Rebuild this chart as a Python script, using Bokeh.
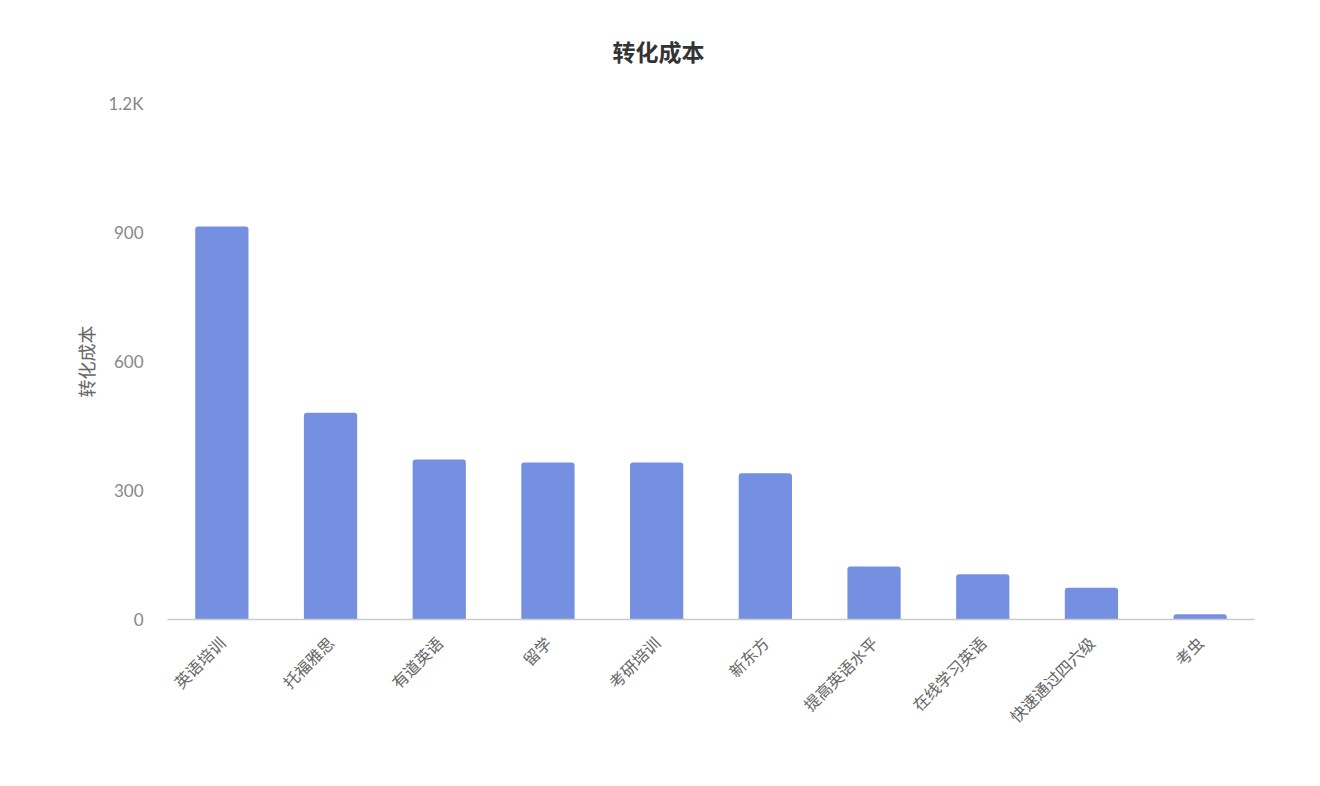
from math import pi
from bokeh.plotting import figure
from bokeh.models import FixedTicker, ColumnDataSource
from bokeh.embed import file_html
from bokeh.resources import INLINE

categories = ["英语培训", "托福雅思", "有道英语", "留学", "考研培训", "新东方",
              "提高英语水平", "在线学习英语", "快速通过四六级", "考虫"]
values = [914, 481, 372, 365, 365, 340, 123, 105, 74, 12]
y_ticks = [0, 300, 600, 900, 1200]
y_tick_labels = {0: "0", 300: "300", 600: "600", 900: "900", 1200: "1.2K"}

FONT = "Lato, 'Noto Sans CJK SC', sans-serif"

src = ColumnDataSource(dict(cat=categories, val=values))

p = figure(x_range=categories, y_range=(0, 1200), width=1312, height=778,
           output_backend="svg", toolbar_location=None,
           min_border_left=167, min_border_right=58, min_border_top=103,
           min_border_bottom=159)
p.outline_line_color = None
p.background_fill_color = "white"
p.border_fill_color = "white"

p.title.text = "转化成本"
p.title.align = "left"
p.title.vertical_align = "top"
p.title.text_font = "'Noto Sans CJK SC', sans-serif"
p.title.text_font_size = "23px"
p.title.text_font_style = "bold"
p.title.text_color = "#333333"
p.title.offset = 445
p.title.standoff = 67

p.vbar(x="cat", top="val", width=0.49, source=src, color="#7590e0",
       line_color=None, border_radius=[3, 3, 0, 0])

p.xgrid.grid_line_color = None
p.ygrid.grid_line_color = None

p.yaxis.ticker = FixedTicker(ticks=y_ticks)
p.yaxis.major_label_overrides = y_tick_labels
p.yaxis.axis_line_color = None
p.yaxis.major_tick_line_color = None
p.yaxis.minor_tick_line_color = None
p.yaxis.major_label_text_font = FONT
p.yaxis.major_label_text_font_size = "17px"
p.yaxis.major_label_text_color = "#888888"
p.yaxis.major_label_standoff = 18
p.yaxis.axis_label = "转化成本"
p.yaxis.axis_label_text_font = "'Noto Sans CJK SC', sans-serif"
p.yaxis.axis_label_text_font_size = "18px"
p.yaxis.axis_label_text_font_style = "normal"
p.yaxis.axis_label_text_color = "#666666"
p.yaxis.axis_label_standoff = 7

p.xaxis.axis_line_color = "#cccccc"
p.xaxis.axis_line_width = 1.5
p.xaxis.major_tick_line_color = None
p.xaxis.minor_tick_line_color = None
p.xaxis.major_label_orientation = pi / 4
p.xaxis.major_label_text_font = "'Noto Sans CJK SC', sans-serif"
p.xaxis.major_label_text_font_size = "16px"
p.xaxis.major_label_text_color = "#666666"
p.xaxis.major_label_standoff = 14

open("out.html", "w").write(file_html(p, INLINE))
